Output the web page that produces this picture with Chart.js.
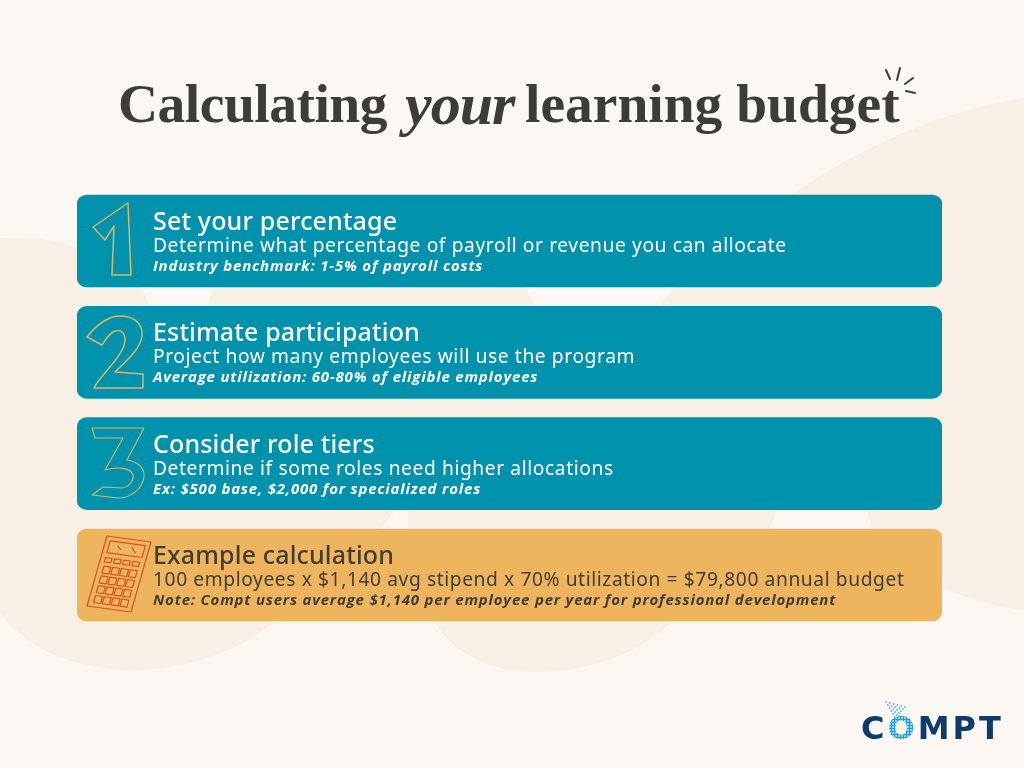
<!DOCTYPE html>
<html>
<head>
<meta charset="utf-8">
<title>Calculating your learning budget</title>
<script src="https://cdn.jsdelivr.net/npm/chart.js@4"></script>
<style>
    html, body { margin: 0; padding: 0; background: #fbf8f3; }
    #page { position: relative; width: 1024px; height: 768px; overflow: hidden; }
    #myChart { position: absolute; left: 0; top: 0; }
    .titleWord { position: absolute; top: 69px; line-height: 70px; white-space: nowrap; color: #3d3c36; font-family: "Liberation Serif", serif; font-weight: 700; font-size: 55.5px; }
    .titleTight { letter-spacing: -0.5px; }
    .titleScript { font-style: italic; font-size: 60px; letter-spacing: -1px; }
    .cardText { position: absolute; left: 153px; white-space: nowrap; transform: translateY(-50%); font-family: "Noto Sans", sans-serif; }
    .cardTitle { font-size: 25px; font-weight: 500; letter-spacing: 0.15px; }
    .cardBody { font-size: 19.2px; letter-spacing: 0.6px; }
    .cardNote { font-family: "Open Sans", sans-serif; font-size: 15px; font-weight: 700; font-style: italic; letter-spacing: 0.8px; }
    #logo { position: absolute; left: 861px; top: 706px; line-height: 44px; font-family: "DejaVu Sans", sans-serif; font-weight: 700; font-size: 32px; letter-spacing: 3px; color: #0f3a6e; white-space: nowrap; }
    #logo span { color: transparent; background-color: #8fd3ec; background-image: radial-gradient(circle, #1f9fd0 1px, transparent 1.3px); background-size: 3px 3px; -webkit-background-clip: text; background-clip: text; }
</style>
</head>
<body>
<div id="page">
    <canvas id="myChart" width="1024" height="768"></canvas>
</div>
<script>
const cardTitles = ['Set your percentage', 'Estimate participation', 'Consider role tiers', 'Example calculation'];
const cardBodies = [
    'Determine what percentage of payroll or revenue you can allocate',
    'Project how many employees will use the program',
    'Determine if some roles need higher allocations',
    '100 employees x $1,140 avg stipend x 70% utilization = $79,800 annual budget'
];
const cardNotes = [
    'Industry benchmark: 1-5% of payroll costs',
    'Average utilization: 60-80% of eligible employees',
    'Ex: $500 base, $2,000 for specialized roles',
    'Note: Compt users average $1,140 per employee per year for professional development'
];
const cardValues = [1, 1, 1, 1];
const cardColors = ['#0092ac', '#0092ac', '#0092ac', '#efb55e'];
const cardTextColors = ['#ffffff', '#ffffff', '#ffffff', '#3f3d36'];

/*Background*/

function polygon(ctx, points) {
    ctx.beginPath();
    points.forEach((p, i) => i == 0 ? ctx.moveTo(p[0], p[1]) : ctx.lineTo(p[0], p[1]));
    ctx.closePath();
}


function drawBackground(ctx) {
    ctx.fillStyle = '#fbf8f3';
    ctx.fillRect(0, 0, 1024, 768);

    ctx.fillStyle = '#f8f0e5';
    ctx.beginPath();
    ctx.moveTo(0, 238);
    ctx.bezierCurveTo(50, 236, 100, 245, 141, 287);
    ctx.lineTo(160, 200);
    ctx.lineTo(794, 200);
    ctx.lineTo(794, 193);
    ctx.bezierCurveTo(850, 155, 930, 112, 1024, 98);
    ctx.lineTo(1024, 610);
    ctx.bezierCurveTo(960, 603, 905, 575, 872, 529);
    ctx.lineTo(672, 600);
    ctx.lineTo(672, 621);
    ctx.bezierCurveTo(640, 655, 585, 672, 537, 672);
    ctx.bezierCurveTo(490, 672, 455, 655, 434, 621);
    ctx.lineTo(430, 600);
    ctx.lineTo(276, 600);
    ctx.lineTo(276, 621);
    ctx.bezierCurveTo(235, 655, 180, 670, 130, 670);
    ctx.bezierCurveTo(70, 668, 30, 650, 0, 613);
    ctx.closePath();
    ctx.fill();

    ctx.fillStyle = '#fbf8f3';
    const gaps = [
        [[141, 287], [215, 287], [206, 306], [150, 306]],
        [[524, 287], [675, 287], [660, 306], [536, 306]],
        [[395, 510], [408, 510], [408, 529], [381, 529]],
        [[778, 510], [867, 510], [873, 529], [769, 529]]
    ];
    gaps.forEach(gap => {
        polygon(ctx, gap);
        ctx.fill();
    });
}

/*Decorations*/

function strokeOutline(ctx, points) {
    polygon(ctx, points);
    ctx.stroke();
}


function drawNumbers(ctx) {
    ctx.strokeStyle = '#d9b763';
    ctx.lineWidth = 1.5;
    ctx.lineJoin = 'round';
    strokeOutline(ctx, [[128, 203], [93, 227], [105, 240], [114, 226], [112, 275], [131, 275]]);

    ctx.beginPath();
    ctx.moveTo(87, 337);
    ctx.bezierCurveTo(97, 324, 110, 315, 122, 316);
    ctx.bezierCurveTo(136, 317, 143, 325, 142, 336);
    ctx.bezierCurveTo(140, 350, 125, 362, 115, 372);
    ctx.lineTo(143, 374);
    ctx.lineTo(143, 388);
    ctx.lineTo(94, 388);
    ctx.bezierCurveTo(100, 375, 125, 355, 125, 340);
    ctx.bezierCurveTo(125, 330, 118, 329, 113, 332);
    ctx.bezierCurveTo(108, 335, 104, 342, 102, 345);
    ctx.closePath();
    ctx.stroke();

    ctx.lineWidth = 1.1;
    ctx.beginPath();
    ctx.moveTo(92, 428);
    ctx.lineTo(144, 428);
    ctx.lineTo(127, 460);
    ctx.bezierCurveTo(140, 462, 145, 470, 144, 477);
    ctx.bezierCurveTo(142, 490, 130, 498, 118, 498);
    ctx.lineTo(92, 495);
    ctx.lineTo(103, 487);
    ctx.lineTo(122, 488);
    ctx.bezierCurveTo(130, 487, 134, 480, 133, 475);
    ctx.bezierCurveTo(131, 468, 118, 466, 105, 470);
    ctx.lineTo(123, 438);
    ctx.lineTo(95, 438);
    ctx.closePath();
    ctx.stroke();
}


function calcPoint(u, v) {
    return [107 + 44 * u - 20 * v, 536 + 6 * u + 70 * v];
}


function calcBox(ctx, u, v, w, h) {
    strokeOutline(ctx, [calcPoint(u, v), calcPoint(u + w, v), calcPoint(u + w, v + h), calcPoint(u, v + h)]);
}


function drawCalculator(ctx) {
    ctx.strokeStyle = '#d5512a';
    ctx.lineWidth = 1.2;
    calcBox(ctx, 0, 0, 1, 1);
    calcBox(ctx, 0.1, 0.06, 0.8, 0.17);
    for (let i = 0; i < 4; i++) {
        calcBox(ctx, 0.1 + i * 0.21, 0.3, 0.15, 0.06);
    }
    for (let row = 0; row < 4; row++) {
        for (let i = 0; i < 4; i++) {
            calcBox(ctx, 0.12 + i * 0.2, 0.42 + row * 0.14, 0.16, 0.1);
        }
    }
    strokeOutline(ctx, [calcPoint(0.3, 0.12), calcPoint(0.38, 0.16)]);
    strokeOutline(ctx, [calcPoint(0.62, 0.11), calcPoint(0.72, 0.18)]);
}


function drawSparkle(ctx) {
    ctx.strokeStyle = '#3d3c36';
    ctx.lineWidth = 2;
    ctx.lineCap = 'round';
    [[886, 70, 890, 79], [900, 68, 897, 80], [913, 78, 905, 84], [906, 91, 915, 93]].forEach(s => {
        ctx.beginPath();
        ctx.moveTo(s[0], s[1]);
        ctx.lineTo(s[2], s[3]);
        ctx.stroke();
    });
}


function drawLogoDots(ctx) {
    ctx.fillStyle = '#4fb6de';
    for (let i = 0; i < 6; i++) {
        for (let j = 0; j <= i; j++) {
            ctx.beginPath();
            ctx.arc(886 + i * 2.8 + (j - i / 2) * 2, 702 + i * 2 - (j - i / 2) * 2, 0.9, 0, Math.PI * 2);
            ctx.fill();
        }
    }
}


const decorationPlugin = {
    id: 'decoration',
    beforeDraw(chart) {
        drawBackground(chart.ctx);
    },
    afterDraw(chart) {
        const ctx = chart.ctx;
        ctx.save();
        drawNumbers(ctx);
        drawCalculator(ctx);
        drawSparkle(ctx);
        drawLogoDots(ctx);
        ctx.restore();
    }
};

/*Chart*/

function setChart() {
    return new Chart(document.getElementById('myChart'), {
        type: 'bar',
        data: {
            labels: cardTitles,
            datasets: [{
                data: cardValues,
                backgroundColor: cardColors,
                borderRadius: 10,
                borderSkipped: false,
                barThickness: 92
            }]
        },
        options: {
            indexAxis: 'y',
            responsive: false,
            animation: false,
            layout: { padding: { left: 77, right: 82, top: 185.33, bottom: 137.33 } },
            plugins: { legend: { display: false }, tooltip: { enabled: false } },
            scales: {
                x: { display: false, min: 0, max: 1 },
                y: { display: false }
            }
        },
        plugins: [decorationPlugin]
    });
}

/*Text*/

function addText(className, text, styles) {
    let element = document.createElement('div');
    element.className = className;
    element.textContent = text;
    Object.assign(element.style, styles);
    document.getElementById('page').appendChild(element);
}


function addCardTexts(chart) {
    cardTitles.forEach((title, i) => {
        let center = chart.scales.y.getPixelForValue(i);
        let color = cardTextColors[i];
        addText('cardText cardTitle', title, { top: `${center - 21}px`, color });
        addText('cardText cardBody', cardBodies[i], { top: `${center + 3}px`, color });
        addText('cardText cardNote', cardNotes[i], { top: `${center + 24}px`, color });
    });
}


function addHeader() {
    addText('titleWord titleTight', 'Calculating', { left: '118px' });
    addText('titleWord titleScript', 'your', { left: '405px' });
    addText('titleWord', 'learning budget', { left: '525px' });
    let logo = document.createElement('div');
    logo.id = 'logo';
    logo.innerHTML = 'C<span>O</span>MPT';
    document.getElementById('page').appendChild(logo);
}


let chart = setChart();
addHeader();
addCardTexts(chart);
</script>
</body>
</html>
